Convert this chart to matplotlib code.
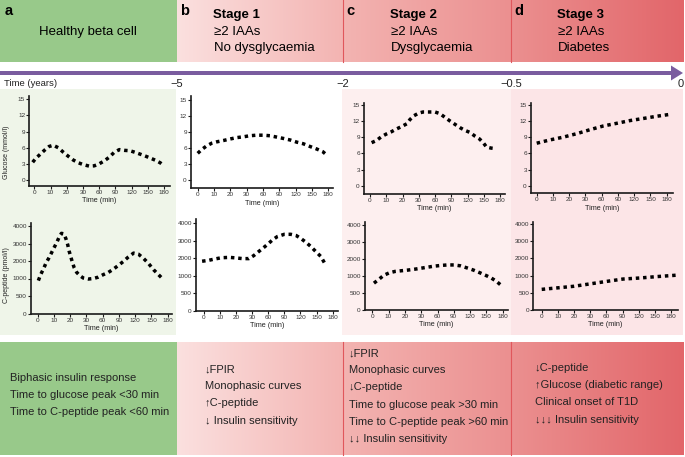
import matplotlib.pyplot as plt
import numpy as np
from matplotlib.colors import LinearSegmentedColormap
from matplotlib.patches import Rectangle

plt.rcParams['font.family'] = ['Liberation Sans', 'DejaVu Sans']

W, H = 685, 457

# axis tick labels
time_ticks = [0, 10, 20, 30, 60, 90, 120, 150, 180]
glucose_ticks = [0, 3, 6, 9, 12, 15]
cpep_ticks = [0, 500, 1000, 2000, 3000, 4000]
year_labels = ['\u22125', '\u22122', '\u22120.5', '0']

# a: healthy beta cell
a_glu_t = [-1, 1, 3.5, 6.2, 9.1, 11.7, 14.8, 17.9, 21, 24.1, 27.2, 30.6, 42, 51, 60,
           69.6, 79, 88, 97.5, 107, 117, 126, 136, 145, 154, 163.5, 173, 179]
a_glu = [3.3, 4.05, 4.74, 5.51, 6.23, 6.46, 6.0, 5.16, 4.4, 3.7, 3.2, 2.86, 2.57, 2.64, 3.0,
         3.56, 4.26, 5.16, 5.65, 5.51, 5.44, 5.16, 4.8, 4.47, 4.1, 3.7, 3.2, 2.72]
a_cp_t = [0.4, 1.8, 3.5, 5.1, 6.8, 8.4, 10, 11.7, 13.3, 14.6, 16.2, 17.4, 18.5, 19.3, 20.3,
          21.3, 22.4, 24, 26, 28, 33.6, 43, 52, 61, 70.5, 80, 89, 98, 107, 117, 126, 135,
          144, 154, 163, 172]
a_cp = [940, 1220, 1540, 1880, 2160, 2450, 2750, 3050, 3390, 3580, 3550, 3260, 2920, 2580, 2260,
        1940, 1630, 1350, 1160, 1030, 985, 1000, 1080, 1220, 1350, 1540, 1750, 1970, 2220, 2450,
        2390, 2160, 1880, 1500, 1220, 970]

# b: stage 1
b_glu_t = [0, 2.4, 5.5, 8.6, 11.6, 15.7, 20, 24, 28, 36, 48, 60, 73, 85, 97, 110, 122,
           134, 146, 159, 170, 177]
b_glu = [5.0, 5.7, 6.4, 6.9, 7.15, 7.4, 7.7, 7.95, 8.1, 8.3, 8.4, 8.4, 8.3, 8.05, 7.8, 7.5,
         7.1, 6.8, 6.3, 5.8, 5.3, 4.7]
b_cp_t = [-1, 3, 7, 11, 16, 20, 24, 28, 33, 41, 50, 59, 68, 77, 90, 102, 112, 120, 130,
          139, 148, 158, 165]
b_cp = [1830, 1880, 1960, 2030, 2050, 2020, 1980, 1980, 2150, 2350, 2570, 2800, 3050, 3240,
        3370, 3370, 3300, 3150, 2920, 2680, 2400, 2100, 1720]

# c: stage 2
c_glu_t = [1, 4, 7, 10, 13, 16, 19.5, 22.6, 24.6, 27, 30, 38, 51, 60, 69, 78.5, 88, 97,
           106, 115, 124.5, 134, 142, 149, 155, 163, 171]
c_glu = [8.0, 8.4, 9.1, 9.6, 10.0, 10.5, 11.0, 11.5, 12.3, 13.0, 13.5, 13.7, 13.7, 13.7, 13.4,
         12.7, 12.0, 11.4, 10.8, 10.3, 9.9, 9.2, 8.7, 8.0, 7.2, 7.0, 6.9]
c_cp_t = [1, 4, 7, 10.5, 14, 18, 22, 26, 30, 42, 54, 66, 78, 90, 102, 114, 126, 138, 150,
          159, 168, 176]
c_cp = [790, 900, 1040, 1190, 1270, 1310, 1350, 1400, 1460, 1520, 1580, 1620, 1650, 1650,
        1600, 1480, 1350, 1190, 1020, 940, 850, 740]

# d: stage 3
d_glu_t = [0, 8, 16, 25, 38, 63, 88, 112, 137, 161, 189]
d_glu = [7.9, 8.5, 9.0, 9.7, 10.4, 11.1, 11.6, 12.1, 12.5, 12.9, 13.3]
d_cp_t = [0, 9, 20, 30, 60, 91, 122, 153, 193]
d_cp = [600, 640, 690, 760, 830, 900, 930, 970, 1030]

headers = [
    ('a', None, ['Healthy beta cell']),
    ('b', 'Stage 1', ['\u22652 IAAs', 'No dysglycaemia']),
    ('c', 'Stage 2', ['\u22652 IAAs', 'Dysglycaemia']),
    ('d', 'Stage 3', ['\u22652 IAAs', 'Diabetes']),
]
notes = [
    ['Biphasic insulin response', 'Time to glucose peak <30 min', 'Time to C-peptide peak <60 min'],
    ['\u2193FPIR', 'Monophasic curves', '\u2191C-peptide', '\u2193 Insulin sensitivity'],
    ['\u2193FPIR', 'Monophasic curves', '\u2193C-peptide', 'Time to glucose peak >30 min',
     'Time to C-peptide peak >60 min', '\u2193\u2193 Insulin sensitivity'],
    ['\u2193C-peptide', '\u2191Glucose (diabetic range)', 'Clinical onset of T1D',
     '\u2193\u2193\u2193 Insulin sensitivity'],
]

# piecewise scales: ticks are evenly spaced even though the values are not
t_knots = np.array([-10] + time_ticks + [210], float)
t_pos = np.arange(-1, len(time_ticks) + 1, dtype=float)
c_knots = np.array([-500] + cpep_ticks + [5000], float)
c_pos = np.arange(-1, len(cpep_ticks) + 1, dtype=float)


def t_fwd(x):
    return np.interp(x, t_knots, t_pos)


def t_inv(p):
    return np.interp(p, t_pos, t_knots)


def c_fwd(y):
    return np.interp(y, c_knots, c_pos)


def c_inv(p):
    return np.interp(p, c_pos, c_knots)


fig = plt.figure(figsize=(W / 100, H / 100), dpi=100)

bg = fig.add_axes([0, 0, 1, 1])
bg.set_xlim(0, W)
bg.set_ylim(H, 0)
bg.axis('off')

green = '#98C98A'
stage_cmap = LinearSegmentedColormap.from_list(
    'stage', ['#FBE0DF', '#F3B3B1', '#EB8F8F', '#E2666A'])
grad = np.linspace(0, 1, 256).reshape(1, -1)

# header + bottom boxes
for y0, y1 in [(0, 62), (342, 455)]:
    bg.add_patch(Rectangle((0, y0), 177, y1 - y0, color=green, lw=0))
    bg.imshow(grad, cmap=stage_cmap, extent=(177, 684, y1, y0), aspect='auto')
    for xv in [343, 511]:
        bg.plot([xv, xv], [y0, y1], color='#E0575C', lw=0.8)

# middle panel backgrounds
bg.add_patch(Rectangle((0, 89), 176, 246, color='#EFF5E9', lw=0))
bg.add_patch(Rectangle((342, 89), 169, 246, color='#FDEFEF', lw=0))
bg.add_patch(Rectangle((511, 89), 172, 246, color='#FCE5E7', lw=0))
bg.set_xlim(0, W)
bg.set_ylim(H, 0)

# timeline arrow
bg.arrow(0, 73, 671, 0, width=4, head_width=15, head_length=12, color='#7A5C9F', lw=0)
bg.text(4, 83, 'Time (years)', fontsize=6.8, va='center', ha='left', color='#222')
for xv, lab in zip([177, 343, 511, 681], year_labels):
    bg.text(xv, 84, lab, fontsize=8, va='center', ha='center', color='#222')

# header text
letter_x = [9, 185, 350, 519]
title_x = [213, 213, 390, 557]
for (letter, title, lines), lx, tx in zip(headers, letter_x, title_x):
    bg.text(lx, 11, letter, fontsize=10.5, fontweight='bold', ha='center', va='center')
    if title is None:
        bg.text(88, 32, lines[0], fontsize=9.5, ha='center', va='center')
        continue
    bg.text(tx, 15, title, fontsize=9.5, fontweight='bold', ha='left', va='center')
    for i, line in enumerate(lines):
        bg.text(tx + 1, 32 + 16 * i, line, fontsize=9.5, ha='left', va='center')

# bottom notes
note_x = [10, 205, 349, 535]
note_y0 = [378, 369, 353, 368]
for lines, nx, ny in zip(notes, note_x, note_y0):
    for i, line in enumerate(lines):
        bg.text(nx, ny + 17.2 * i, line, fontsize=8, ha='left', va='center', color='#222')

# small curve panels: (left, right, top, bottom), (tick0 px, tick180 px), (zero px, top-tick px)
glu_boxes = [
    ((29.3, 170, 96, 186), (34.3, 164), (180, 99.3)),
    ((191, 333.5, 96, 188.3), (197.7, 328.3), (180, 100)),
    ((364, 505, 102.7, 194), (370, 500), (185.7, 105)),
    ((531, 673, 102.7, 193.3), (536.7, 666.7), (185.7, 105)),
]
cp_boxes = [
    ((31, 171.7, 223.3, 313.5), (37.7, 167.7), (313.5, 226)),
    ((196, 338, 219, 310.7), (203.7, 332.7), (310.7, 223.3)),
    ((365, 508, 221.7, 310), (372.3, 502.7), (310, 225)),
    ((533.3, 678, 221.7, 310), (541.7, 671), (310, 224)),
]
glu_series = [(a_glu_t, a_glu), (b_glu_t, b_glu), (c_glu_t, c_glu), (d_glu_t, d_glu)]
cp_series = [(a_cp_t, a_cp), (b_cp_t, b_cp), (c_cp_t, c_cp), (d_cp_t, d_cp)]


def make_panel(box, tick_px, val_px, kind):
    left, right, top, bottom = box
    ax = fig.add_axes([left / W, 1 - bottom / H, (right - left) / W, (bottom - top) / H])
    ax.set_facecolor('none')
    ax.set_xscale('function', functions=(t_fwd, t_inv))
    t0, t8 = tick_px
    k = 8 / (t8 - t0)
    ax.set_xlim(t_inv((left - t0) * k), t_inv((right - t0) * k))
    ax.set_xticks(time_ticks)
    ax.set_xticklabels([str(t) for t in time_ticks])
    y0, ytop = val_px
    if kind == 'glu':
        k = 15 / (y0 - ytop)
        ax.set_ylim(-(bottom - y0) * k, 15 + (ytop - top) * k)
        ax.set_yticks(glucose_ticks)
        ax.set_yticklabels([str(v) for v in glucose_ticks])
    else:
        ax.set_yscale('function', functions=(c_fwd, c_inv))
        k = 5 / (y0 - ytop)
        ax.set_ylim(c_inv(-(bottom - y0) * k), c_inv(5 + (ytop - top) * k))
        ax.set_yticks(cpep_ticks)
        ax.set_yticklabels([str(v) for v in cpep_ticks])
    ax.minorticks_off()
    for s in ['top', 'right']:
        ax.spines[s].set_visible(False)
    for s in ['left', 'bottom']:
        ax.spines[s].set_linewidth(1.2)
        ax.spines[s].set_color('#1a1a1a')
    ax.tick_params(length=2, width=0.8, labelsize=4.6, pad=1, labelcolor='#333',
                   color='#1a1a1a')
    ax.set_xlabel('Time (min)', fontsize=5.2, labelpad=1.5, color='#222')
    return ax


for i in range(4):
    ax = make_panel(*glu_boxes[i], 'glu')
    ax.plot(*glu_series[i], color='black', lw=2.5, linestyle=(0, (1, 1.1)), clip_on=False)
    ax = make_panel(*cp_boxes[i], 'cp')
    ax.plot(*cp_series[i], color='black', lw=2.5, linestyle=(0, (1, 1.1)), clip_on=False)

fig.text(7 / W, 1 - 152 / H, 'Glucose (mmol/l)', rotation=90, fontsize=5,
         ha='center', va='center', color='#222')
fig.text(7 / W, 1 - 275 / H, 'C-peptide (pmol/l)', rotation=90, fontsize=5,
         ha='center', va='center', color='#222')

fig.savefig('out.png', dpi=100)
